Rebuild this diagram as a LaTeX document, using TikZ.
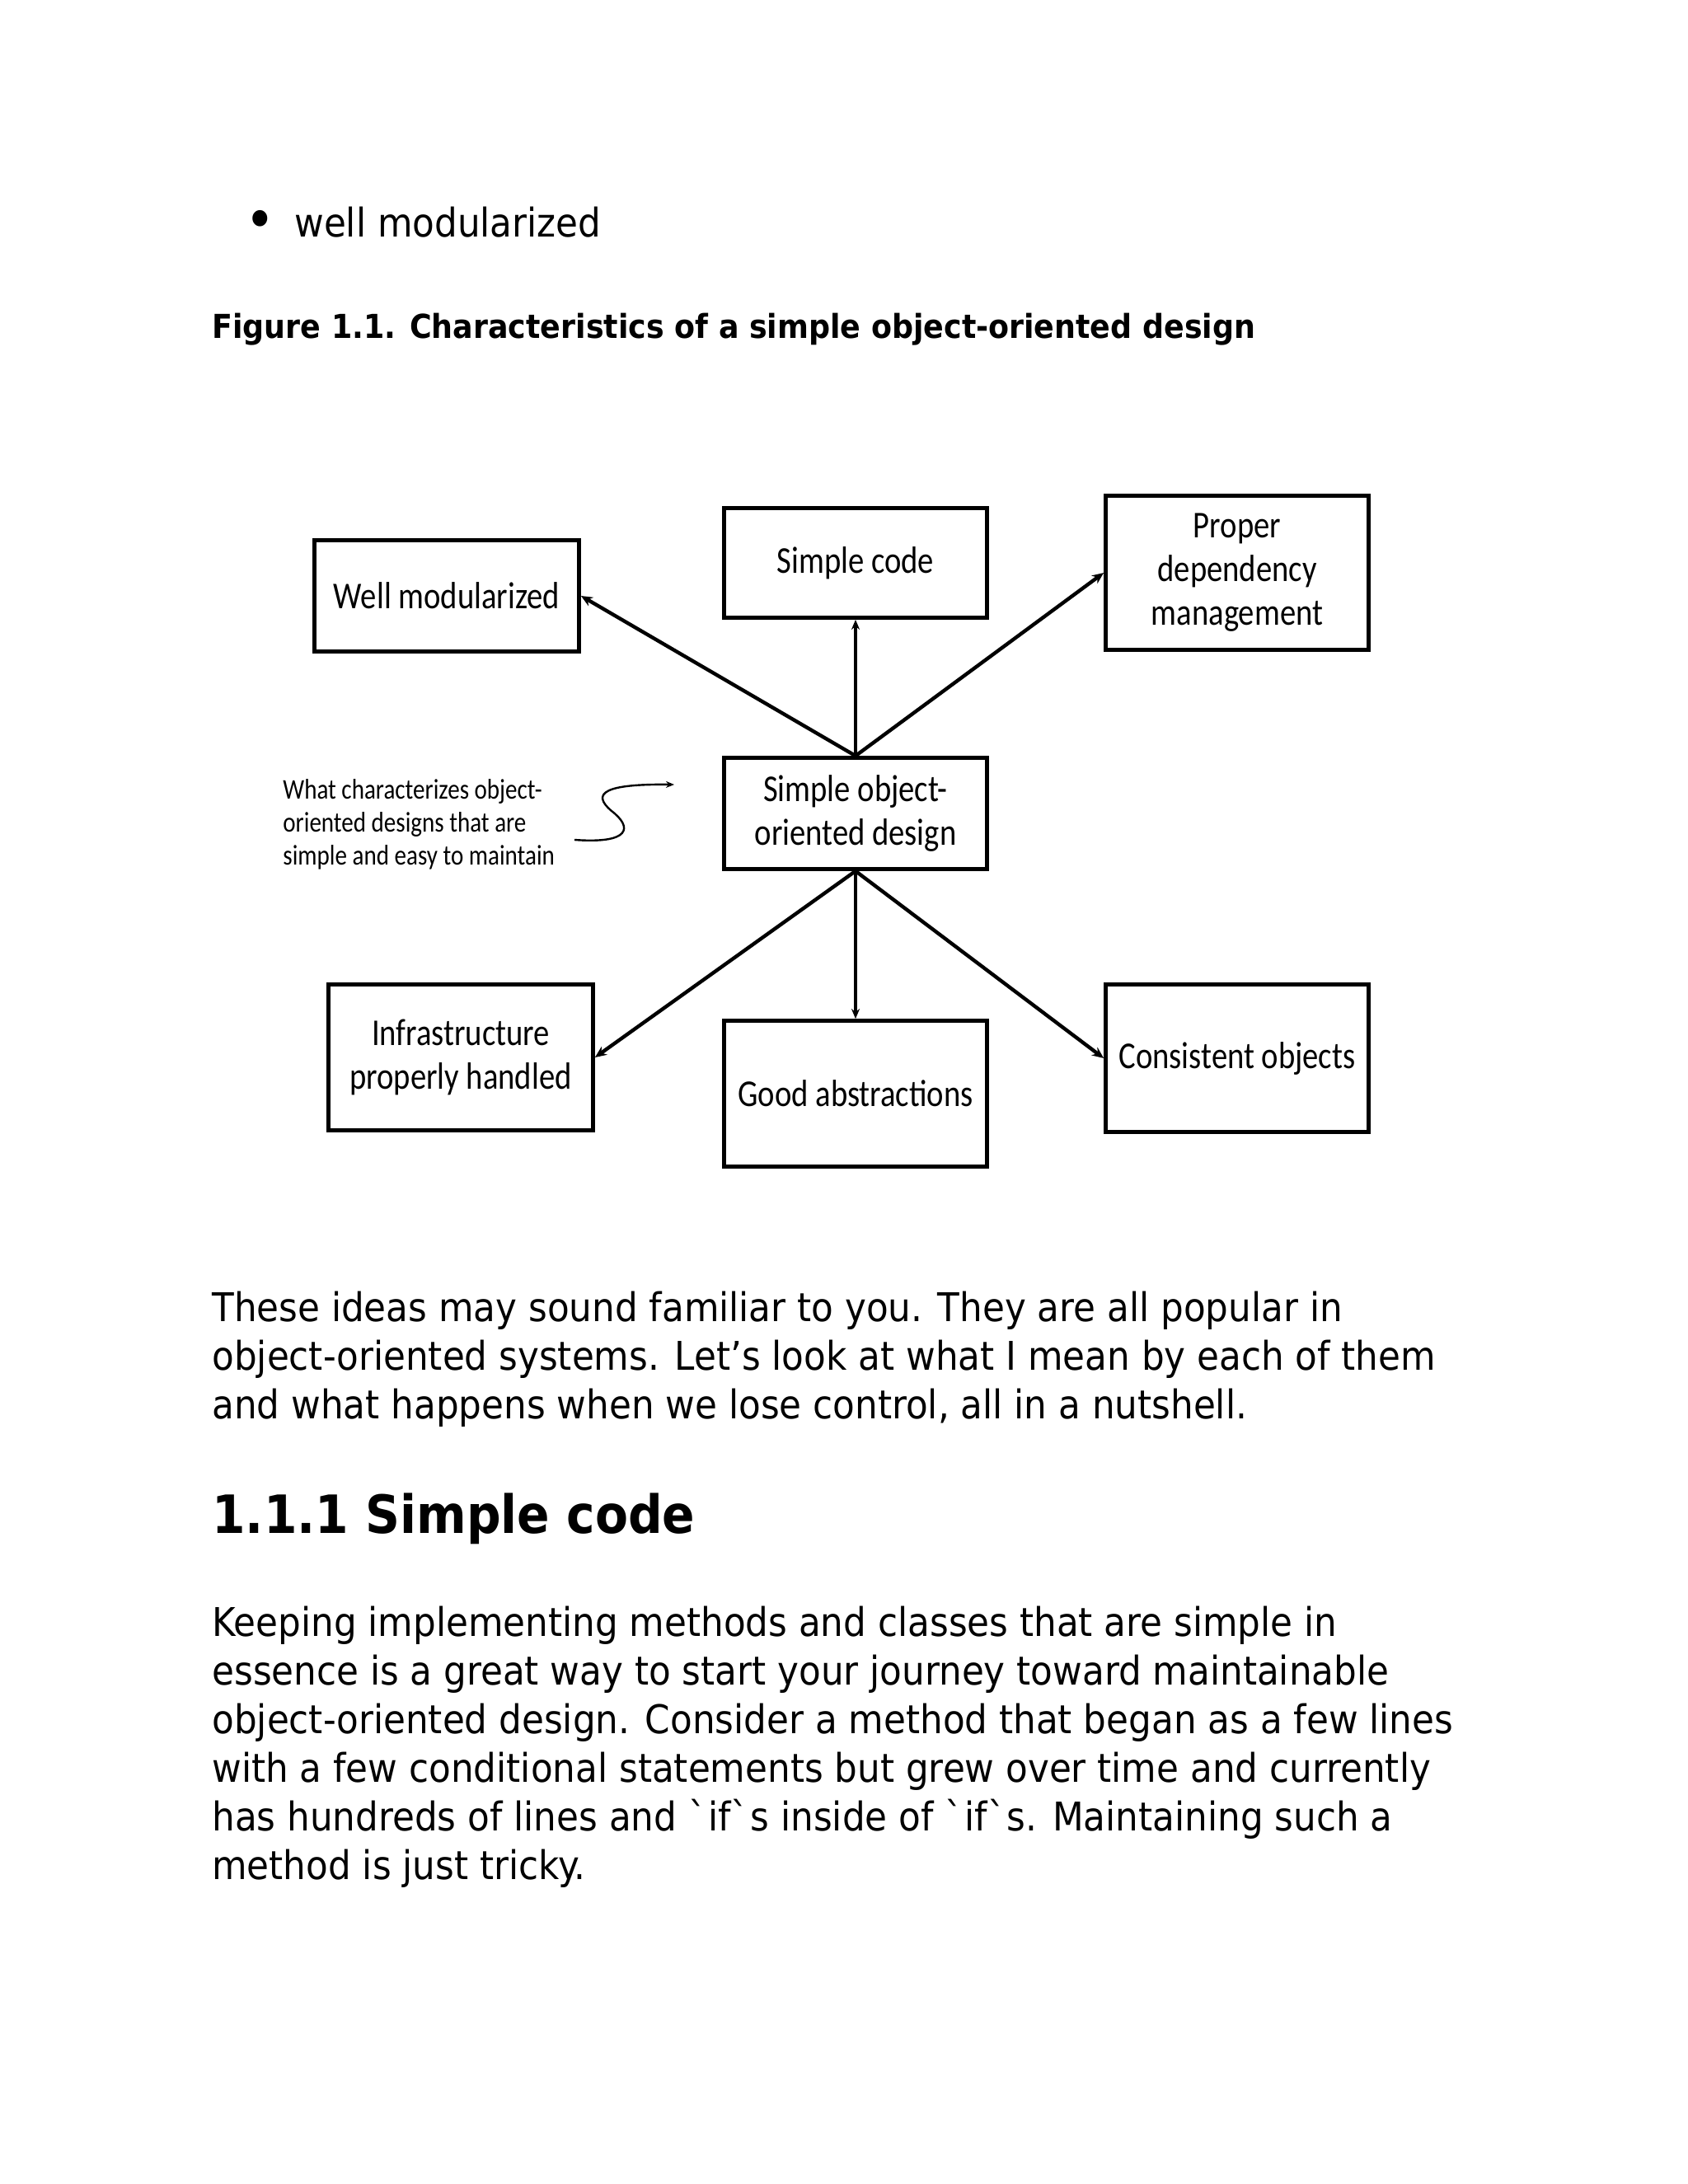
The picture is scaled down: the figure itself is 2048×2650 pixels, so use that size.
\documentclass[tikz,border=0pt]{standalone}
\usepackage{fontspec}
\setmainfont{DejaVu Sans}[FakeStretch=0.91]
\newfontfamily\diagfont{Carlito}[FakeStretch=0.84]
\usetikzlibrary{arrows.meta,positioning}
\newcommand\backtick{\XeTeXglyph\XeTeXcharglyph"60\relax}

\begin{document}
\begin{tikzpicture}[x=0.5pt, y=-0.5pt,
    box/.style={draw, line width=2.4pt, minimum width=159.5pt, inner sep=0pt,
                align=center, font=\diagfont\fontsize{23}{26.5}\selectfont},
    link/.style={-{Stealth[length=7pt,width=6pt]}, line width=2.2pt},
    thinlink/.style={-{Stealth[length=6pt,width=5pt]}, line width=1.6pt},
    body/.style={anchor=base west, inner sep=0pt, align=left,
                 font=\fontsize{24}{29.5}\selectfont},
  ]
    \useasboundingbox (0,0) rectangle (2048,2650);
    \fill[white] (0,0) rectangle (2048,2650);

    % text above the figure
    \node[anchor=base, inner sep=0pt, font=\fontsize{34}{29.5}\selectfont] (dot) at (316,290) {•};
    \node[body] (item) at (357,287) {well modularized};
    \node[body, font=\bfseries\fontsize{20}{24}\selectfont] (caption) at (257,410)
      {Figure 1.1. Characteristics of a simple object-oriented design};

    % boxes
    \node[box, minimum width=160.5pt, minimum height=67.5pt] (wm) at (542,723) {Well modularized};
    \node[box, minimum height=66.5pt] (sc) at (1038,683) {Simple code};
    \node[box, minimum height=93.5pt] (pd) at (1501,695) {Proper\\dependency\\management};
    \node[box, minimum height=67.5pt] (core) at (1038,987) {Simple object-\\oriented design};
    \node[box, minimum width=160.5pt, minimum height=88.5pt] (ip) at (559,1283) {Infrastructure\\properly handled};
    \node[box, minimum height=88.5pt] (ga) at (1038,1327) {Good abstractions};
    \node[box, minimum height=89.5pt] (co) at (1501,1284) {Consistent objects};

    % note with squiggle (base = last line)
    \node[anchor=base west, inner sep=0pt, align=left,
          font=\diagfont\fontsize{17.3}{19.8}\selectfont] (note) at (343,1049)
      {What characterizes object-\\oriented designs that are\\simple and easy to maintain};
    \coordinate (tail) at (697,1019);
    \coordinate (tip) at (818,952);
    \draw[-{Stealth[length=5pt,width=4pt]}, line width=1.2pt]
      (tail) .. controls (765,1024) and (768,1004) .. (742,984)
             .. controls (716,962) and (735,951) .. (tip);

    % arrows
    \draw[link] (core.north) -- (wm.east);
    \draw[thinlink] (core.north) -- (sc.south);
    \draw[link] (core.north) -- (pd.west);
    \draw[link] (core.south) -- (ip.east);
    \draw[thinlink] (core.south) -- (ga.north);
    \draw[link] (core.south) -- (co.west);

    % text below the figure (base = last line)
    \node[body] (para1) at (257,1721)
      {These ideas may sound familiar to you. They are all popular in\\
       object-oriented systems. Let’s look at what I mean by each of them\\
       and what happens when we lose control, all in a nutshell.};
    \node[body, font=\bfseries\fontsize{32}{38}\selectfont] (head) at (257,1860) {1.1.1 Simple code};
    \node[body] (para2) at (257,2280)
      {Keeping implementing methods and classes that are simple in\\
       essence is a great way to start your journey toward maintainable\\
       object-oriented design. Consider a method that began as a few lines\\
       with a few conditional statements but grew over time and currently\\
       has hundreds of lines and \backtick if\backtick s inside of \backtick if\backtick s. Maintaining such a\\
       method is just tricky.};
\end{tikzpicture}
\end{document}
